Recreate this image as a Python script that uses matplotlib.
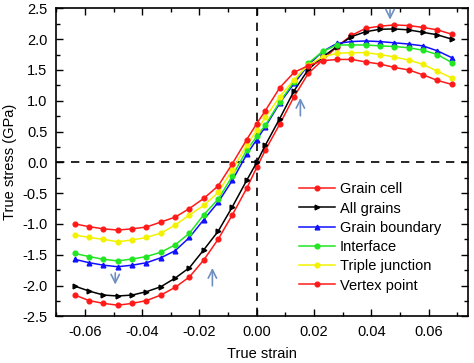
import matplotlib
matplotlib.use("Agg")
import matplotlib.pyplot as plt
from matplotlib.ticker import MultipleLocator

plt.rcParams['font.family'] = ['Liberation Sans', 'DejaVu Sans']

# strain values (compression branch, origin, tension branch)
strain = [-0.0635, -0.0585, -0.0535, -0.0485, -0.0435, -0.0385, -0.0335, -0.0285,
          -0.0235, -0.0185, -0.0135, -0.0085, -0.0035, 0.0,
          0.003, 0.008, 0.013, 0.018, 0.023, 0.028, 0.033, 0.038, 0.043, 0.048,
          0.053, 0.058, 0.063, 0.068]

grain_cell = [-2.155, -2.245, -2.29, -2.32, -2.29, -2.245, -2.155, -2.03,
              -1.86, -1.585, -1.25, -0.85, -0.42, -0.08,
              0.20, 0.62, 1.065, 1.445, 1.66, 1.88, 2.06, 2.175, 2.21, 2.23,
              2.22, 2.19, 2.15, 2.08]
all_grains = [-2.01, -2.09, -2.155, -2.17, -2.155, -2.10, -2.02, -1.88,
              -1.71, -1.42, -1.12, -0.72, -0.29, 0.0,
              0.28, 0.71, 1.16, 1.51, 1.71, 1.88, 2.04, 2.12, 2.16, 2.165,
              2.15, 2.11, 2.07, 2.00]
grain_boundary = [-1.575, -1.63, -1.67, -1.695, -1.67, -1.63, -1.55, -1.435,
                  -1.22, -0.93, -0.65, -0.29, 0.13, 0.37,
                  0.58, 0.96, 1.28, 1.58, 1.80, 1.93, 1.96, 1.97, 1.96, 1.94,
                  1.92, 1.89, 1.81, 1.70]
interface = [-1.48, -1.53, -1.575, -1.60, -1.57, -1.53, -1.46, -1.34,
             -1.15, -0.85, -0.60, -0.22, 0.20, 0.42,
             0.605, 0.98, 1.31, 1.61, 1.80, 1.905, 1.905, 1.905, 1.89, 1.88,
             1.86, 1.82, 1.75, 1.62]
triple_junction = [-1.18, -1.22, -1.25, -1.29, -1.26, -1.22, -1.15, -1.02,
                   -0.855, -0.70, -0.49, -0.12, 0.28, 0.52,
                   0.73, 1.065, 1.34, 1.58, 1.71, 1.77, 1.78, 1.78, 1.75, 1.71,
                   1.66, 1.59, 1.48, 1.37]
vertex_point = [-1.00, -1.045, -1.08, -1.10, -1.08, -1.05, -0.97, -0.89,
                -0.75, -0.585, -0.385, -0.02, 0.37, 0.63,
                0.84, 1.21, 1.46, 1.57, 1.65, 1.67, 1.67, 1.63, 1.595, 1.54,
                1.50, 1.42, 1.33, 1.265]

labels = ["Grain cell", "All grains", "Grain boundary", "Interface",
          "Triple junction", "Vertex point"]
series = [grain_cell, all_grains, grain_boundary, interface, triple_junction, vertex_point]
colors = ["#ff1a1a", "#000000", "#1010ff", "#22e622", "#f2f200", "#ff1a1a"]
markers = ["o", ">", "^", "o", "o", "o"]

# arrows: (x, y_start, y_end)
arrows = [(0.0465, 2.52, 2.27), (0.0152, 0.71, 1.09),
          (-0.0155, -2.05, -1.67), (-0.0494, -1.75, -2.03)]

fig = plt.figure(figsize=(4.74, 3.63), dpi=100)
ax = fig.add_axes([0.118, 0.1286, 0.8687, 0.8485])

ax.axhline(0, color="black", lw=1.2, ls=(0, (5, 4)), zorder=1)
ax.axvline(0, color="black", lw=1.2, ls=(0, (5, 4)), zorder=1)

for y, lab, c, m in zip(series, labels, colors, markers):
    ax.plot(strain, y, color=c, marker=m, ms=3.4, lw=1.1, label=lab, zorder=3)

for x, y0, y1 in arrows:
    ax.annotate("", xy=(x, y1), xytext=(x, y0),
                arrowprops=dict(arrowstyle="->", color="#6f8fc0", lw=1.2,
                                mutation_scale=15),
                annotation_clip=False, zorder=4)

ax.set_xlim(-0.0701, 0.0736)
ax.set_ylim(-2.5, 2.5)
ax.xaxis.set_major_locator(MultipleLocator(0.02))
ax.xaxis.set_minor_locator(MultipleLocator(0.01))
ax.yaxis.set_major_locator(MultipleLocator(0.5))
ax.yaxis.set_minor_locator(MultipleLocator(0.25))
ax.xaxis.set_major_formatter(plt.FuncFormatter(lambda v, p: f"{v:.2f}"))
ax.yaxis.set_major_formatter(plt.FuncFormatter(lambda v, p: f"{v:.1f}"))
ax.tick_params(which="both", direction="in", top=True, right=True,
               labelsize=10.5, width=1.0)
ax.tick_params(which="major", length=5, pad=6)
ax.tick_params(which="minor", length=3)
for s in ax.spines.values():
    s.set_linewidth(1.2)

ax.set_xlabel("True strain", fontsize=10.5, labelpad=6)
ax.set_ylabel("True stress (GPa)", fontsize=10.5, labelpad=4)

ax.legend(loc="upper left", bbox_to_anchor=(0.59, 0.435), frameon=False,
          fontsize=10.5, handlelength=2.5, handletextpad=0.3,
          labelspacing=0.36, borderaxespad=0, borderpad=0)

fig.savefig("out.png", dpi=100)
